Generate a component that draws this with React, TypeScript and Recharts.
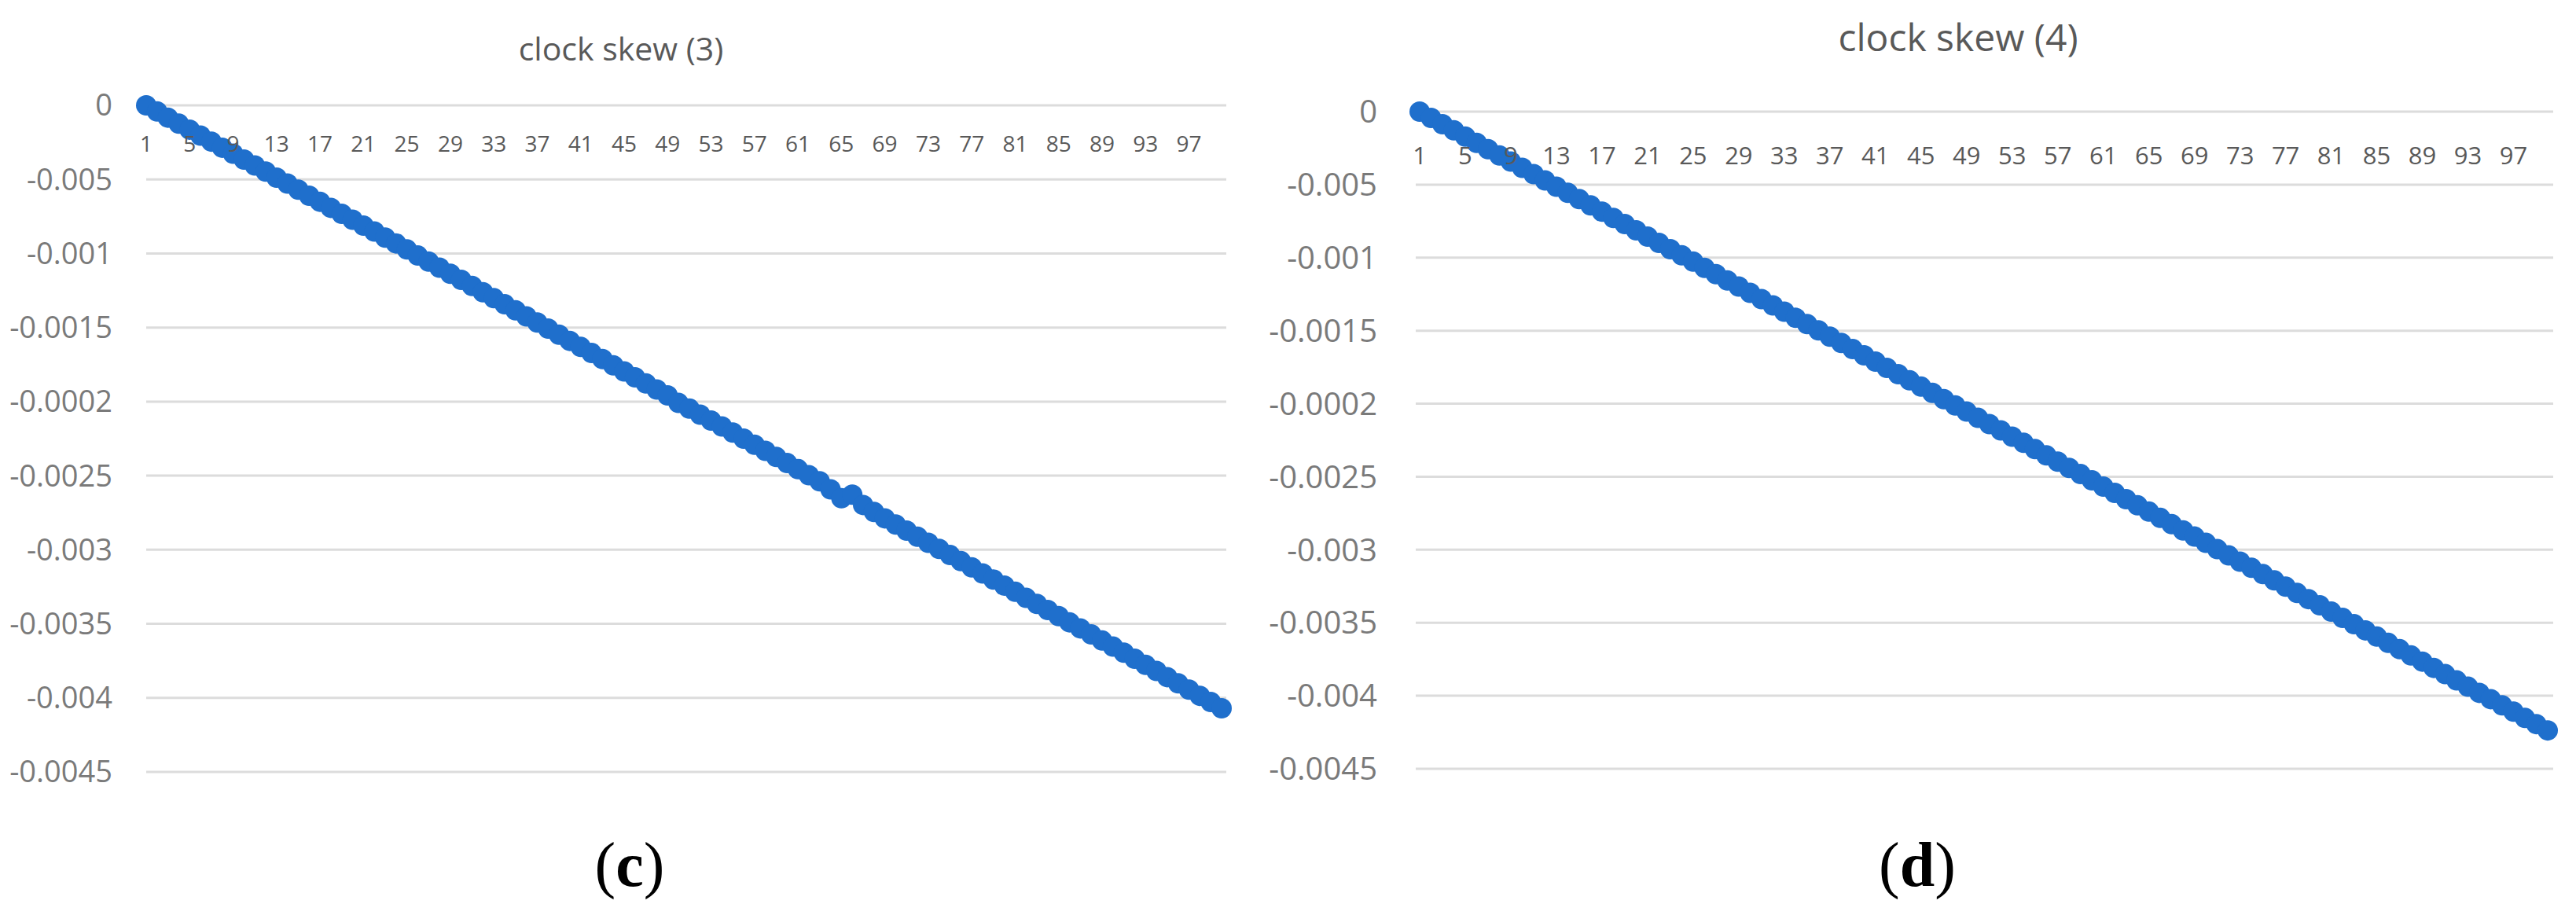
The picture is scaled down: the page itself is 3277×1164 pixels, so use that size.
import React from "react";
import { LineChart, Line, XAxis, YAxis, CartesianGrid } from "recharts";

const categories = [
  1, 2, 3, 4, 5, 6, 7, 8, 9, 10, 11, 12, 13, 14, 15, 16, 17, 18, 19, 20,
  21, 22, 23, 24, 25, 26, 27, 28, 29, 30, 31, 32, 33, 34, 35, 36, 37, 38, 39, 40,
  41, 42, 43, 44, 45, 46, 47, 48, 49, 50, 51, 52, 53, 54, 55, 56, 57, 58, 59, 60,
  61, 62, 63, 64, 65, 66, 67, 68, 69, 70, 71, 72, 73, 74, 75, 76, 77, 78, 79, 80,
  81, 82, 83, 84, 85, 86, 87, 88, 89, 90, 91, 92, 93, 94, 95, 96, 97, 98, 99, 100,
];

// clock skew (3)
const skew3 = [
  0, -0.000041, -0.000083, -0.000124, -0.000164, -0.000204, -0.000245, -0.000286, -0.000326, -0.000366,
  -0.000406, -0.000447, -0.000488, -0.000528, -0.000569, -0.00061, -0.000651, -0.000692, -0.000732, -0.000772,
  -0.000812, -0.000852, -0.000893, -0.000932, -0.000973, -0.001014, -0.001055, -0.001096, -0.001137, -0.001178,
  -0.001219, -0.001262, -0.001302, -0.001343, -0.001384, -0.001425, -0.001466, -0.001507, -0.001548, -0.00159,
  -0.001631, -0.001672, -0.001713, -0.001755, -0.001796, -0.001836, -0.001877, -0.001918, -0.001958, -0.002009,
  -0.002047, -0.002088, -0.002128, -0.002168, -0.002209, -0.00225, -0.002291, -0.002332, -0.002374, -0.002415,
  -0.002456, -0.002497, -0.002538, -0.002592, -0.002652, -0.002628, -0.002698, -0.002745, -0.002788, -0.00283,
  -0.002871, -0.002912, -0.002953, -0.002994, -0.003036, -0.003077, -0.003119, -0.00316, -0.003201, -0.003242,
  -0.003284, -0.003325, -0.003366, -0.003407, -0.003448, -0.00349, -0.003531, -0.003572, -0.003613, -0.003654,
  -0.003695, -0.003736, -0.003777, -0.003818, -0.00386, -0.003902, -0.003944, -0.003986, -0.004028, -0.00407,
];

// clock skew (4)
const skew4 = [
  0, -0.000043, -0.000086, -0.000128, -0.000171, -0.000214, -0.000257, -0.0003, -0.000342, -0.000385,
  -0.000428, -0.000471, -0.000514, -0.000556, -0.000599, -0.000642, -0.000685, -0.000728, -0.00077, -0.000813,
  -0.000856, -0.000899, -0.000942, -0.000984, -0.001027, -0.00107, -0.001113, -0.001156, -0.001198, -0.001241,
  -0.001284, -0.001327, -0.00137, -0.001412, -0.001455, -0.001498, -0.001541, -0.001584, -0.001626, -0.001669,
  -0.001712, -0.001755, -0.001798, -0.00184, -0.001883, -0.001926, -0.001969, -0.002012, -0.002054, -0.002097,
  -0.00214, -0.002183, -0.002226, -0.002268, -0.002311, -0.002354, -0.002397, -0.00244, -0.002482, -0.002525,
  -0.002568, -0.002611, -0.002654, -0.002696, -0.002739, -0.002782, -0.002825, -0.002868, -0.00291, -0.002953,
  -0.002996, -0.003039, -0.003082, -0.003124, -0.003167, -0.00321, -0.003253, -0.003296, -0.003338, -0.003381,
  -0.003424, -0.003467, -0.00351, -0.003552, -0.003595, -0.003638, -0.003681, -0.003724, -0.003766, -0.003809,
  -0.003852, -0.003895, -0.003938, -0.00398, -0.004023, -0.004066, -0.004109, -0.004152, -0.004194, -0.004237,
];

const yTicks = [0, -0.0005, -0.001, -0.0015, -0.002, -0.0025, -0.003, -0.0035, -0.004, -0.0045];
const yTickLabels = ["0", "-0.005", "-0.001", "-0.0015", "-0.0002", "-0.0025", "-0.003", "-0.0035", "-0.004", "-0.0045"];

const titles = ["clock skew (3)", "clock skew (4)"];
const captions = ["c", "d"];

const data3 = categories.map((c, i) => ({ x: c, v: skew3[i] }));
const data4 = categories.map((c, i) => ({ x: c, v: skew4[i] }));

const BLUE = "#1F6FCC";
const SANS = "'Open Sans', 'Noto Sans', sans-serif";

const fmtY = (v: number) => {
  const i = yTicks.findIndex((t) => Math.abs(t - v) < 1e-9);
  return i >= 0 ? yTickLabels[i] : String(v);
};

type PanelProps = {
  data: { x: number; v: number }[];
  left: number;
  width: number;
  yAxisWidth: number;
  yTickMargin: number;
  yFont: number;
  xFont: number;
  xLabelOffset: number;
  top: number;
  bottom: number;
  right: number;
  padL: number;
  padR: number;
};

function XTick(props: any) {
  const { x, payload, plotTop, offset, fontSize } = props;
  return (
    <text
      x={x}
      y={plotTop + offset}
      textAnchor="middle"
      dominantBaseline="central"
      fontSize={fontSize}
      fontFamily={SANS}
      fill="#595959"
    >
      {payload.value}
    </text>
  );
}

function Panel(p: PanelProps) {
  return (
    <div style={{ position: "absolute", left: p.left, top: 0 }}>
      <LineChart
        width={p.width}
        height={1164}
        data={p.data}
        margin={{ top: p.top, bottom: p.bottom, left: 0, right: p.right }}
      >
        <CartesianGrid vertical={false} stroke="#dcdcdc" strokeWidth={3} />
        <XAxis
          dataKey="x"
          orientation="top"
          mirror
          height={2}
          interval={3}
          axisLine={false}
          tickLine={false}
          tickSize={0}
          tickMargin={0}
          padding={{ left: p.padL, right: p.padR }}
          tick={<XTick plotTop={p.top} offset={p.xLabelOffset} fontSize={p.xFont} />}
        />
        <YAxis
          type="number"
          domain={[-0.0045, 0]}
          ticks={yTicks}
          interval={0}
          width={p.yAxisWidth}
          axisLine={false}
          tickLine={false}
          tickSize={0}
          tickMargin={p.yTickMargin}
          tickFormatter={fmtY}
          tick={{ fontSize: p.yFont, fill: "#7a7a7a", fontFamily: SANS }}
        />
        <Line
          type="linear"
          dataKey="v"
          stroke={BLUE}
          strokeWidth={10}
          dot={{ r: 13, fill: BLUE, stroke: BLUE, strokeWidth: 0 }}
          activeDot={false}
          isAnimationActive={false}
        />
      </LineChart>
    </div>
  );
}

export default function App() {
  return (
    <div
      style={{
        position: "absolute",
        left: 0,
        top: 0,
        width: 3277,
        height: 1164,
        background: "#ffffff",
        overflow: "hidden",
      }}
    >
      <Panel
        data={data3}
        left={0}
        width={1640}
        yAxisWidth={186}
        yTickMargin={43}
        yFont={38}
        xFont={28}
        xLabelOffset={48}
        top={134}
        bottom={182}
        right={80}
        padL={0}
        padR={6}
      />
      <Panel
        data={data4}
        left={1600}
        width={1677}
        yAxisWidth={201}
        yTickMargin={49}
        yFont={40}
        xFont={31}
        xLabelOffset={55}
        top={142}
        bottom={186}
        right={29}
        padL={5}
        padR={7}
      />
      <svg
        width={3277}
        height={1164}
        style={{ position: "absolute", left: 0, top: 0, pointerEvents: "none" }}
      >
        <text x={790} y={77} textAnchor="middle" fontFamily={SANS} fontSize={41} fill="#595959">
          {titles[0]}
        </text>
        <text x={2491} y={65} textAnchor="middle" fontFamily={SANS} fontSize={48} fill="#595959">
          {titles[1]}
        </text>
        <text x={801} y={1127} textAnchor="middle" fontFamily="'Liberation Serif', 'DejaVu Serif', serif" fontSize={80} fill="#000">
          (<tspan fontWeight="bold">{captions[0]}</tspan>)
        </text>
        <text x={2439} y={1127} textAnchor="middle" fontFamily="'Liberation Serif', 'DejaVu Serif', serif" fontSize={80} fill="#000">
          (<tspan fontWeight="bold">{captions[1]}</tspan>)
        </text>
      </svg>
    </div>
  );
}
